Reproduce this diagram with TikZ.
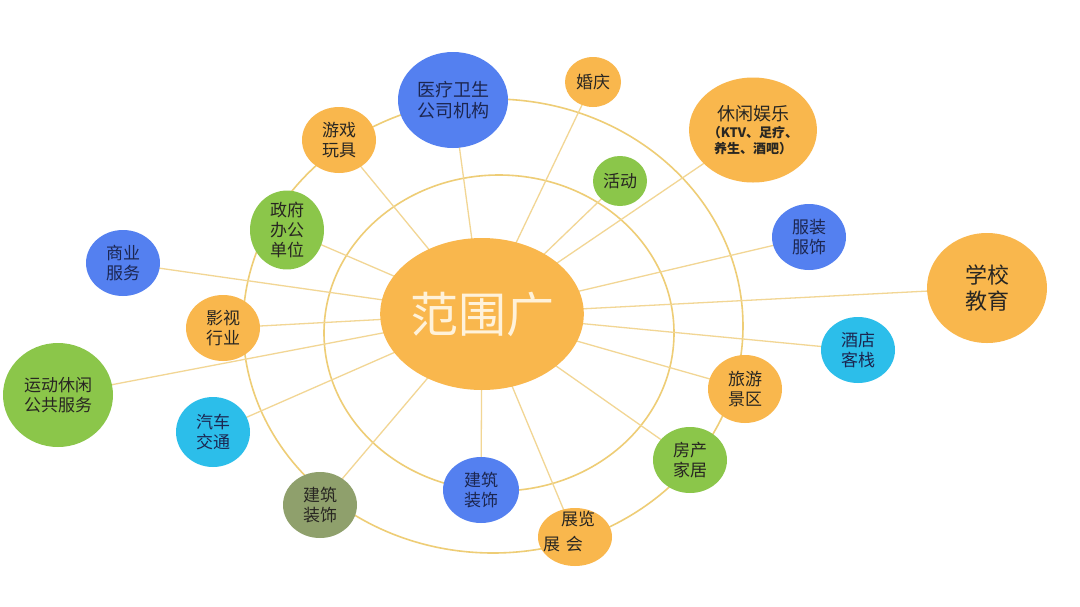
\documentclass[tikz,border=0pt]{standalone}
\usepackage{fontspec}
\newfontfamily\cjk{Noto Sans CJK SC}
\usetikzlibrary{shapes.geometric,backgrounds}
\definecolor{orn}{RGB}{249,183,77}
\definecolor{blu}{RGB}{84,128,240}
\definecolor{grn}{RGB}{139,198,74}
\definecolor{cyn}{RGB}{44,190,234}
\definecolor{olv}{RGB}{143,160,108}
\definecolor{spk}{RGB}{242,214,148}
\definecolor{rng}{RGB}{238,205,118}
\definecolor{txt}{RGB}{40,38,34}
\definecolor{navy}{RGB}{28,38,80}
\definecolor{cream}{RGB}{255,242,218}
\begin{document}
\begin{tikzpicture}[x=1pt,y=-1pt,
  bub/.style={ellipse,inner sep=0pt,align=center,text=txt,
    font=\cjk\fontsize{17}{20}\selectfont},
  sm/.style={bub,minimum width=74pt,minimum height=66pt},
  spoke/.style={draw=spk,line width=1.3pt},
  ring/.style={draw=rng,line width=1.6pt}]
\useasboundingbox (0,0) rectangle (1080,606);

% centre
\node[ellipse,inner sep=0pt,fill=orn,minimum width=168pt,minimum height=152pt,
  text=cream,font=\cjk\fontsize{48}{50}\selectfont] (c) at (482,314) {范围广};

% bubbles
\node[bub,fill=blu,text=navy,minimum width=110pt,minimum height=96pt,
  font=\cjk\fontsize{18}{21}\selectfont] (yiliao) at (453,100) {医疗卫生\\公司机构};
\node[bub,fill=orn,minimum width=56pt,minimum height=50pt] (hunqing) at (593,82) {婚庆};
\node[bub,fill=orn,minimum width=120pt,minimum height=105pt] (xiuxian) at (753,130)
  {\fontsize{18}{20}\selectfont 休闲娱乐\\[-3pt]{\fontsize{13}{14}\selectfont\bfseries （KTV、足疗、}\\[-4pt]{\fontsize{13}{14}\selectfont\bfseries 养生、酒吧）}};
\node[sm,fill=orn] (youxi) at (339,140) {游戏\\玩具};
\node[bub,fill=grn,minimum width=54pt,minimum height=50pt] (huodong) at (620,181) {活动};
\node[sm,fill=grn] (zhengfu) at (287,230) {政府\\办公\\单位};
\node[sm,fill=blu,text=navy] (shangye) at (123,263) {商业\\服务};
\node[sm,fill=orn] (yingshi) at (223,328) {影视\\行业};
\node[bub,fill=grn,minimum width=110pt,minimum height=104pt] (yundong) at (58,395) {运动休闲\\公共服务};
\node[sm,fill=cyn,text=navy,minimum height=70pt] (qiche) at (213,432) {汽车\\交通};
\node[sm,fill=olv] (jianzhu1) at (320,505) {建筑\\装饰};
\node[sm,fill=blu,text=navy,minimum width=76pt] (jianzhu2) at (481,490) {建筑\\装饰};
\node[bub,fill=orn,minimum width=74pt,minimum height=58pt] (zhanlan) at (575,537) {};
\node[font=\cjk\fontsize{17}{20}\selectfont,text=txt,inner sep=0pt] (zl1) at (578,519) {展览};
\node[font=\cjk\fontsize{17}{20}\selectfont,text=txt,inner sep=0pt] (zl2) at (563,544) {展\,\,会};
\node[sm,fill=grn] (fangchan) at (690,460) {房产\\家居};
\node[sm,fill=orn,minimum height=68pt] (lvyou) at (745,389) {旅游\\景区};
\node[sm,fill=blu,text=navy] (fuzhuang) at (809,237) {服装\\服饰};
\node[bub,fill=orn,minimum width=120pt,minimum height=110pt,
  font=\cjk\fontsize{22}{26}\selectfont] (xuexiao) at (987,288) {学校\\教育};
\node[sm,fill=cyn,text=navy] (jiudian) at (858,350) {酒店\\客栈};

\begin{pgfonlayer}{background}
  \fill[white] (0,0) rectangle (1080,606);
  \draw[ring] (493,326) ellipse [x radius=250pt, y radius=227pt];
  \draw[ring] (499,333) ellipse [x radius=175pt, y radius=158pt];
  \foreach \n in {yiliao,hunqing,xiuxian,youxi,huodong,zhengfu,shangye,yingshi,
    yundong,qiche,jianzhu1,jianzhu2,zhanlan,fangchan,lvyou,fuzhuang,xuexiao,jiudian}
    \draw[spoke] (c.center) -- (\n.center);
\end{pgfonlayer}
\end{tikzpicture}
\end{document}
